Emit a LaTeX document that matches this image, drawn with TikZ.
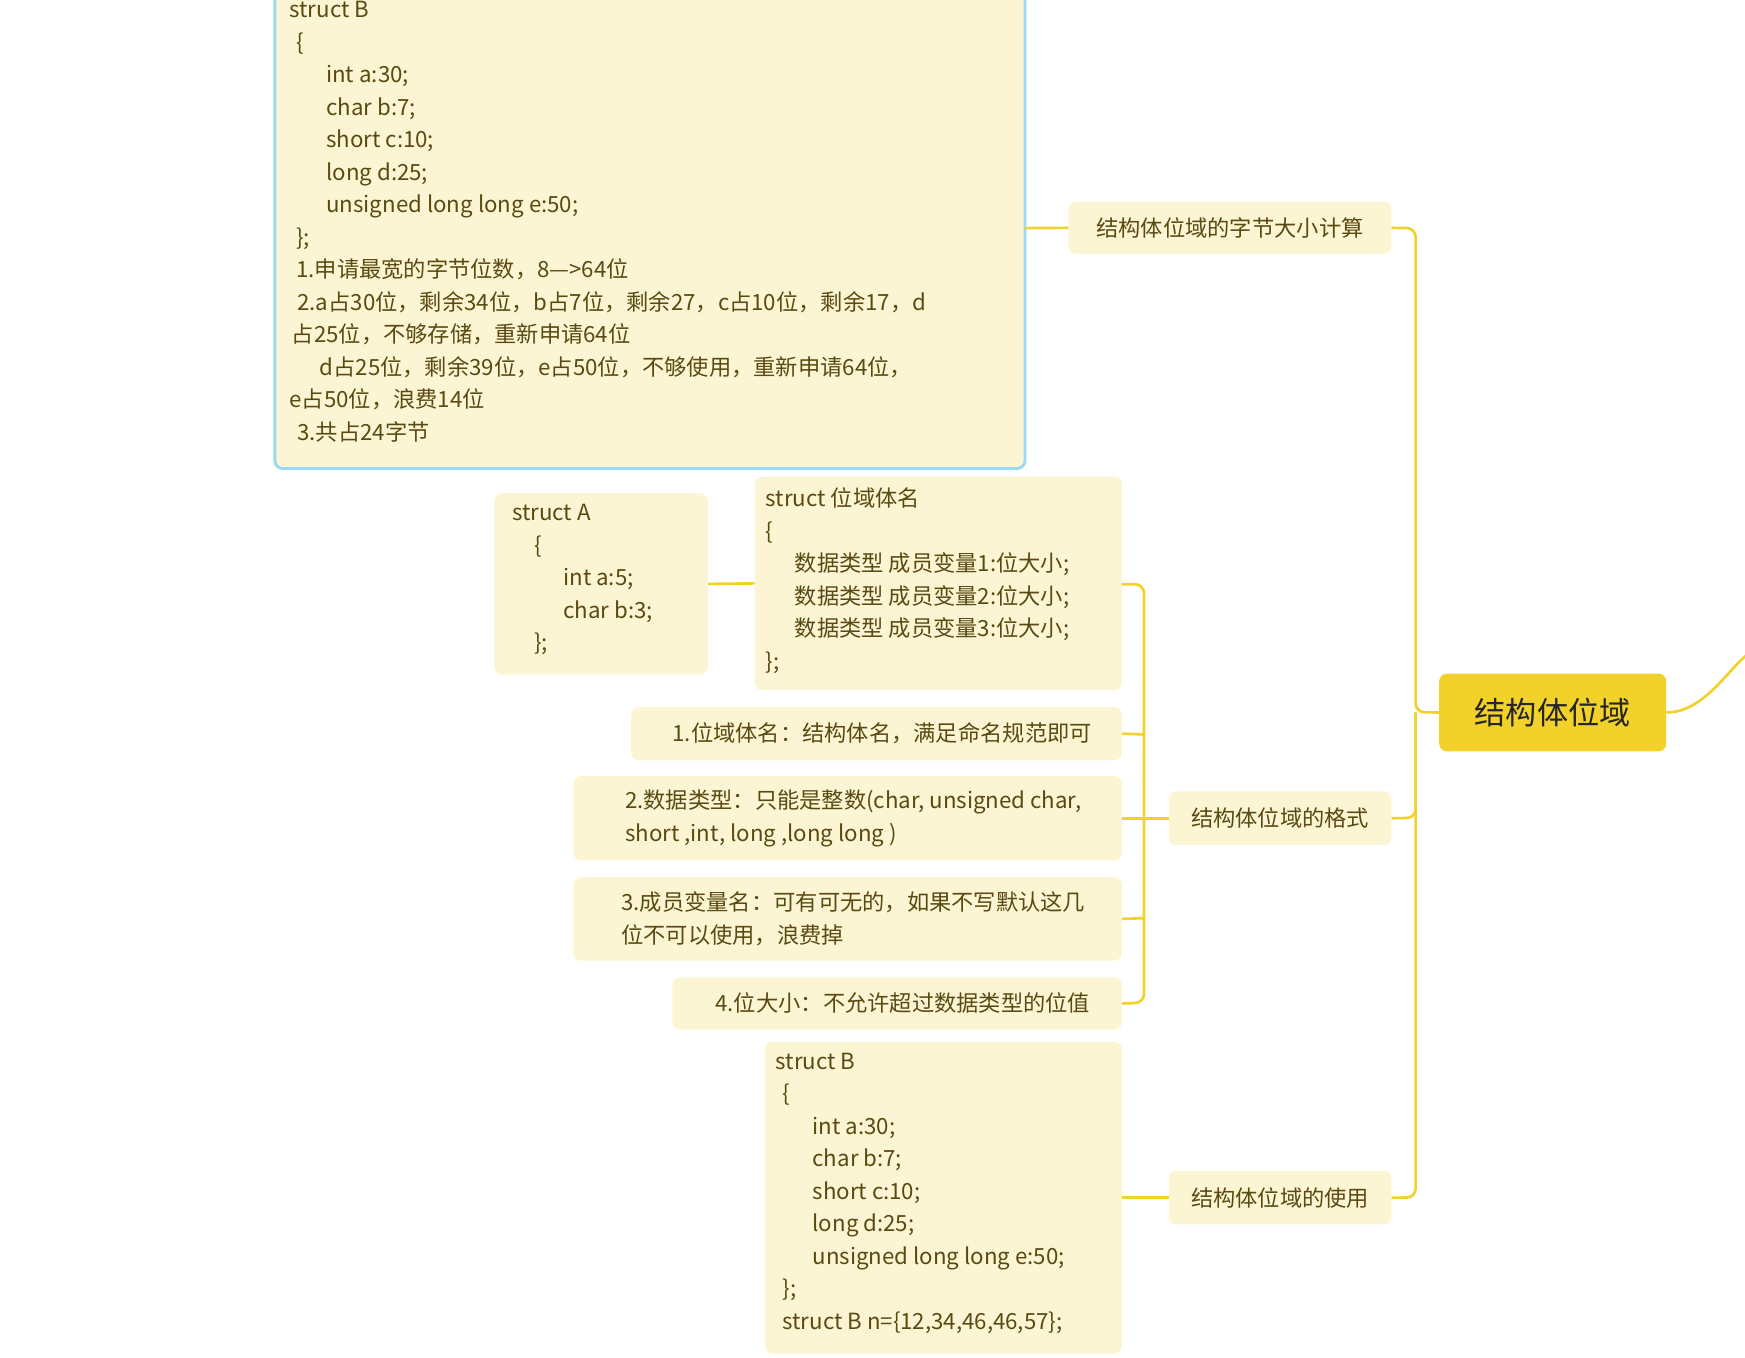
\documentclass[tikz,border=0pt]{standalone}
\usepackage{fontspec}
\setmainfont{Noto Sans CJK SC}
\definecolor{cream}{HTML}{FCF5D3}
\definecolor{line}{HTML}{F2D22A}
\definecolor{txt}{HTML}{5A4A12}
\definecolor{bord}{HTML}{96DAF7}
\begin{document}
\begin{tikzpicture}[x=1pt,y=-1pt,
 box/.style={fill=cream,rounded corners=7pt,anchor=north west,align=left,inner sep=0pt,text=txt,font=\fontsize{20}{29.2}\selectfont},
 conn/.style={draw=line,line width=2.4pt,rounded corners=8pt}]
\useasboundingbox (0,0) rectangle (1568,1220);
% root
\node[fill=line,rounded corners=7pt,anchor=north west,minimum width=204pt,minimum height=70pt,inner sep=0pt,font=\fontsize{28}{32}\selectfont,text=black!85] (root) at (1293,605) {结构体位域};
\coordinate (out) at (1570,588);
\draw[conn] (root.east) .. controls (1530,640) and (1550,605) .. (out);
% level 1
\node[box,minimum width=290pt,minimum height=47pt] (calc) at (960,181) {结构体位域的字节大小计算};
\node[box,minimum width=200pt,minimum height=48pt] (fmt) at (1050,711) {结构体位域的格式};
\node[box,minimum width=200pt,minimum height=48pt] (use) at (1050,1052) {结构体位域的使用};
\draw[conn] (root.west) -- (1272,640) -- (1272,205) -- (calc.east);
\draw[conn] (1272,640) -- (1272,1076) -- (use.east);
\draw[conn] (1272,640) -- (1272,735) -- (fmt.east);
% top box
\draw[draw=bord,line width=2.5pt,fill=cream,rounded corners=7pt] (247,-10) rectangle (921,421);
\node[anchor=north west,align=left,inner sep=0pt,text=txt,font=\fontsize{20}{29.2}\selectfont] (calcbox) at (260,1) {%
struct B\\
\hspace*{6pt}\{\\
\hspace*{33pt}int a:30;\\
\hspace*{33pt}char b:7;\\
\hspace*{33pt}short c:10;\\
\hspace*{33pt}long d:25;\\
\hspace*{33pt}unsigned long long e:50;\\
\hspace*{6pt}\};\\
\hspace*{6pt}1.申请最宽的字节位数，8--->64位\\
\hspace*{7pt}2.a占30位，剩余34位，b占7位，剩余27，c占10位，剩余17，d\\
\hspace*{2pt}占25位，不够存储，重新申请64位\\
\hspace*{27pt}d占25位，剩余39位，e占50位，不够使用，重新申请64位，\\
e占50位，浪费14位\\
\hspace*{7pt}3.共占24字节};
\coordinate (calcr) at (921,205);
\draw[conn] (calc.west) -- (calcr);
% format children
\node[box,minimum width=330pt,minimum height=192pt] (tmpl) at (678,428) {};
\node[anchor=north west,align=left,inner sep=0pt,text=txt,font=\fontsize{20}{29.2}\selectfont] at (688,438) {struct 位域体名\\
\{\\
\hspace*{26pt}数据类型 成员变量1:位大小;\\
\hspace*{26pt}数据类型 成员变量2:位大小;\\
\hspace*{26pt}数据类型 成员变量3:位大小;\\
\};};
\node[box,minimum width=192pt,minimum height=163pt] (sa) at (444,443) {};
\node[anchor=north west,align=left,inner sep=0pt,text=txt,font=\fontsize{20}{29.2}\selectfont] at (460,453) {struct A\\
\hspace*{20pt}\{\\
\hspace*{46pt}int a:5;\\
\hspace*{46pt}char b:3;\\
\hspace*{20pt}\};};
\draw[conn] (tmpl.west) -- (sa.east);
\node[box,minimum width=441pt,minimum height=48pt] (f1) at (567,635) {\hspace*{10pt}1.位域体名：结构体名，满足命名规范即可};
\node[box,minimum width=493pt,minimum height=76pt] (f2) at (515,697) {\hspace*{10pt}2.数据类型：只能是整数(char, unsigned char,\\\hspace*{10pt}short ,int, long ,long long )};
\node[box,minimum width=493pt,minimum height=75pt] (f3) at (515,788) {\hspace*{10pt}3.成员变量名：可有可无的，如果不写默认这几\\\hspace*{10pt}位不可以使用，浪费掉};
\node[box,minimum width=404pt,minimum height=47pt] (f4) at (604,878) {\hspace*{10pt}4.位大小：不允许超过数据类型的位值};
\draw[conn] (fmt.west) -- (f2.east);
\draw[conn] (1008,525) -- (1028,525) -- (1028,735);
\draw[conn] (f4.east) -- (1028,901) -- (1028,735);
\draw[conn] (f1.east) -- (1028,660);
\draw[conn] (f3.east) -- (1028,825);
% use child
\node[box,minimum width=321pt,minimum height=280pt] (ub) at (687,936) {};
\node[anchor=north west,align=left,inner sep=0pt,text=txt,font=\fontsize{20}{29.2}\selectfont] at (697,946) {struct B\\
\hspace*{6pt}\{\\
\hspace*{33pt}int a:30;\\
\hspace*{33pt}char b:7;\\
\hspace*{33pt}short c:10;\\
\hspace*{33pt}long d:25;\\
\hspace*{33pt}unsigned long long e:50;\\
\hspace*{6pt}\};\\
\hspace*{6pt}struct B n=\{12,34,46,46,57\};};
\draw[conn] (use.west) -- (ub.east);
\end{tikzpicture}
\end{document}
